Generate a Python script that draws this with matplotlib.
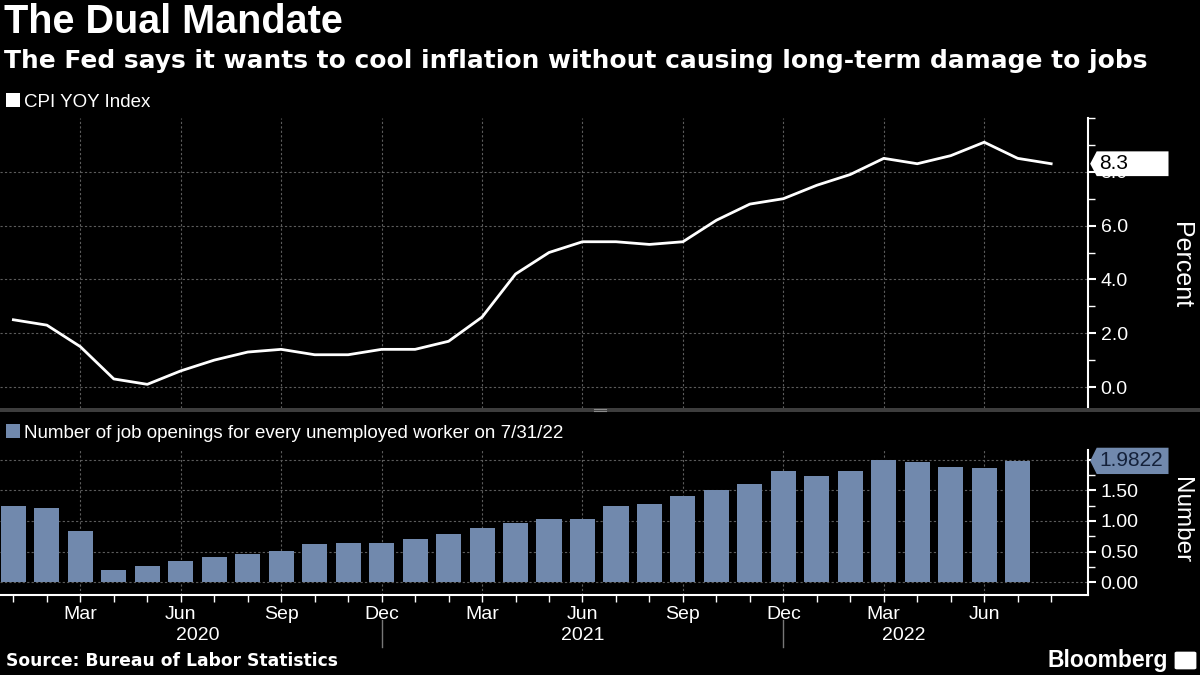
import matplotlib
matplotlib.use("Agg")
import matplotlib.pyplot as plt
from matplotlib.patches import Polygon, Patch, Rectangle, FancyBboxPatch
from matplotlib.lines import Line2D
from matplotlib.transforms import blended_transform_factory

# monthly, Jan 2020 .. Aug 2022
cpi = [2.5, 2.3, 1.5, 0.3, 0.1, 0.6, 1.0, 1.3, 1.4, 1.2, 1.2, 1.4,
       1.4, 1.7, 2.6, 4.2, 5.0, 5.4, 5.4, 5.3, 5.4, 6.2, 6.8, 7.0,
       7.5, 7.9, 8.5, 8.3, 8.6, 9.1, 8.5, 8.3]
# Jan 2020 .. Jul 2022
jobs = [1.24, 1.22, 0.83, 0.20, 0.26, 0.35, 0.41, 0.46, 0.51, 0.63, 0.64, 0.64,
        0.71, 0.79, 0.88, 0.96, 1.04, 1.03, 1.25, 1.27, 1.40, 1.50, 1.61, 1.81,
        1.73, 1.81, 1.99, 1.96, 1.89, 1.86, 1.9822]
month_ticks = [2, 5, 8, 11, 14, 17, 20, 23, 26, 29]
month_labels = ["Mar", "Jun", "Sep", "Dec", "Mar", "Jun", "Sep", "Dec", "Mar", "Jun"]
years = ["2020", "2021", "2022"]
year_centers = [5.5, 17, 26.6]
year_breaks = [11, 23]

FONT = ["Liberation Sans", "DejaVu Sans"]
BOLD = ["DejaVu Sans"]
plt.rcParams["font.family"] = FONT

BG = "black"
FG = "white"
BAR = "#7189ad"
GRID = "#5c5c5c"

fig = plt.figure(figsize=(12, 6.75), dpi=100, facecolor=BG)
W, H = 1200, 675
right = 1088 / W
ax1 = fig.add_axes([0, 1 - 408 / H, right, 290 / H], facecolor=BG)
ax2 = fig.add_axes([0, 1 - 595 / H, right, 145 / H], facecolor=BG)

x_cpi = list(range(len(cpi)))
x_jobs = list(range(len(jobs)))

for ax in (ax1, ax2):
    ax.set_xlim(-0.4, 32.1)
    for s in ("top", "left", "bottom"):
        ax.spines[s].set_visible(False)
    ax.spines["right"].set_color(FG)
    ax.spines["right"].set_linewidth(1.5)
    ax.yaxis.tick_right()
    ax.set_xticks(month_ticks)
    ax.set_xticks(range(32), minor=True)
    ax.grid(True, which="major", color=GRID, linestyle=(0, (2, 2)), linewidth=0.8)
    ax.tick_params(axis="y", which="both", colors=FG, direction="out",
                   length=5, width=1, labelsize=14, pad=3)
    ax.tick_params(axis="y", which="major", length=6, width=1.5)
    ax.set_axisbelow(True)

# top panel: CPI
ax1.plot(x_cpi, cpi, color=FG, linewidth=2, solid_joinstyle="round")
ax1.set_ylim(-0.78, 10.0)
ax1.set_yticks([0, 2, 4, 6, 8])
ax1.set_yticks([1, 3, 5, 7, 9, 10], minor=True)
ax1.set_yticklabels([f"{v:.1f}" for v in [0, 2, 4, 6, 8]])
ax1.tick_params(axis="x", which="both", bottom=False, labelbottom=False)

# bottom panel: job openings ratio
ax2.bar(x_jobs, jobs, width=0.75, color=BAR, zorder=2)
ax2.set_ylim(-0.21, 2.16)
ax2.set_yticks([0, 0.5, 1.0, 1.5, 2.0])
ax2.set_yticks([0.25, 0.75, 1.25, 1.75], minor=True)
ax2.set_yticklabels([f"{v:.2f}" for v in [0, 0.5, 1.0, 1.5, 2.0]])
ax2.spines["bottom"].set_visible(True)
ax2.spines["bottom"].set_color(FG)
ax2.spines["bottom"].set_linewidth(1.5)
ax2.set_xticklabels(month_labels)
ax2.tick_params(axis="x", which="both", colors=FG, direction="out",
                length=5, width=1, labelsize=14, pad=3)

# year labels and separators
tb = blended_transform_factory(ax2.transData, ax2.transAxes)
for yr, xc in zip(years, year_centers):
    ax2.text(xc, -0.28, yr, transform=tb, color=FG, fontsize=14,
             ha="center", va="center")
for xb in year_breaks:
    ax2.add_line(Line2D([xb, xb], [-0.17, -0.36], transform=tb, color="#777777",
                        linewidth=1, clip_on=False))

# last-value tags
def value_tag(ax, value, half, fill, text, tcolor):
    tr = blended_transform_factory(ax.transAxes, ax.transData)
    pts = [(1.002, value), (1.008, value + half), (1.074, value + half),
           (1.074, value - half), (1.008, value - half)]
    ax.add_patch(Polygon(pts, closed=True, transform=tr, facecolor=fill,
                         edgecolor="none", clip_on=False, zorder=5))
    ax.text(1.0105, value, text, transform=tr, color=tcolor, fontsize=15,
            ha="left", va="center", zorder=6, clip_on=False)

value_tag(ax1, cpi[-1], 0.46, FG, f"{cpi[-1]:.1f}", "black")
value_tag(ax2, jobs[-1], 0.215, BAR, f"{jobs[-1]:.4f}", "#14213a")

# axis titles
fig.text(1181 / W, 1 - 265 / H, "Percent", rotation=-90, color=FG, fontsize=18,
         ha="center", va="center")
fig.text(1181 / W, 1 - 520 / H, "Number", rotation=-90, color=FG, fontsize=17.5,
         ha="center", va="center")

# legends
leg_kw = dict(loc="center left", frameon=False, handlelength=0.75, handleheight=0.75,
              handletextpad=0.25, borderaxespad=0, borderpad=0.3,
              labelcolor=FG, fontsize=13.5)
fig.legend(handles=[Patch(facecolor=FG)], labels=["CPI YOY Index"],
           bbox_to_anchor=(0.0, 1 - 102 / H), **leg_kw)
fig.legend(handles=[Patch(facecolor=BAR)],
           labels=["Number of job openings for every unemployed worker on 7/31/22"],
           bbox_to_anchor=(0.0, 1 - 433 / H), **leg_kw)

# panel separator
fig.add_artist(Rectangle((0, 1 - 412 / H), 1, 4 / H, transform=fig.transFigure,
                         facecolor="#3d3d3d", edgecolor="none"))
for dy in (-1, 1):
    fig.add_artist(Line2D([594 / W, 606 / W], [1 - (410 + dy) / H] * 2,
                          transform=fig.transFigure, color="#8a8a8a", linewidth=0.8))

# titles
fig.text(4 / W, 1 - 22 / H, "The Dual Mandate", color=FG, fontsize=28.5,
         fontweight="bold", ha="left", va="center")
fig.text(4 / W, 1 - 61 / H,
         "The Fed says it wants to cool inflation without causing long-term damage to jobs",
         color=FG, fontsize=17.9, fontweight="bold", ha="left", va="center", family=BOLD)

# footer
fig.text(6 / W, 1 - 661 / H, "Source: Bureau of Labor Statistics", color=FG,
         fontsize=12.3, fontweight="bold", ha="left", va="center", family=BOLD)
fig.text(1168 / W, 1 - 660 / H, "Bloomberg", color=FG, fontsize=16.5,
         fontweight="bold", ha="right", va="center")
fig.add_artist(FancyBboxPatch((1177 / W, 1 - 668 / H), 17 / W, 15 / H,
                              boxstyle="round,pad=0.002", transform=fig.transFigure,
                              facecolor=FG, edgecolor="none"))

fig.savefig("out.png", dpi=100, facecolor=BG)
